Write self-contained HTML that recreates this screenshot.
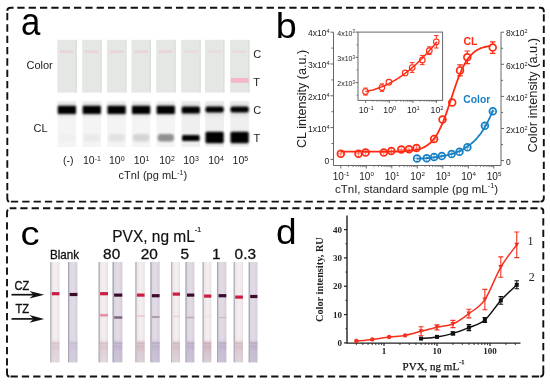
<!DOCTYPE html>
<html><head><meta charset="utf-8"><style>
html,body{margin:0;padding:0;background:#fff;width:550px;height:385px;overflow:hidden}
svg{display:block;filter:blur(0.35px)}
</style></head><body>
<svg width="550" height="385" viewBox="0 0 550 385">
<path d="M17.30 7.7H24.60M28.63 7.7H35.93M39.97 7.7H47.27M51.30 7.7H58.60M62.63 7.7H69.93M73.97 7.7H81.27M85.30 7.7H92.60M96.63 7.7H103.93M107.97 7.7H115.27M119.30 7.7H126.60M130.63 7.7H137.93M141.97 7.7H149.27M153.30 7.7H160.60M164.63 7.7H171.93M175.97 7.7H183.27M187.30 7.7H194.60M198.63 7.7H205.93M209.97 7.7H217.27M221.30 7.7H228.60M232.63 7.7H239.93M243.97 7.7H251.27M255.30 7.7H262.60M266.63 7.7H273.93M277.97 7.7H285.27M289.30 7.7H296.60M300.63 7.7H307.93M311.97 7.7H319.27M323.30 7.7H330.60M334.63 7.7H341.93M345.97 7.7H353.27M357.30 7.7H364.60M368.63 7.7H375.93M379.97 7.7H387.27M391.30 7.7H398.60M402.63 7.7H409.93M413.97 7.7H421.27M425.30 7.7H432.60M436.63 7.7H443.93M447.97 7.7H455.27M459.30 7.7H466.60M470.63 7.7H477.93M481.97 7.7H489.27M493.30 7.7H500.60M504.63 7.7H511.93M515.97 7.7H523.27M527.30 7.7H534.60M543.8 14.30V21.60M543.8 25.63V32.93M543.8 36.97V44.27M543.8 48.30V55.60M543.8 59.63V66.93M543.8 70.97V78.27M543.8 82.30V89.60M543.8 93.63V100.93M543.8 104.97V112.27M543.8 116.30V123.60M543.8 127.63V134.93M543.8 138.97V146.27M543.8 150.30V157.60M543.8 161.63V168.93M543.8 172.97V180.27M543.8 184.30V191.60M10.90 201.6H18.20M22.23 201.6H29.53M33.57 201.6H40.87M44.90 201.6H52.20M56.23 201.6H63.53M67.57 201.6H74.87M78.90 201.6H86.20M90.23 201.6H97.53M101.57 201.6H108.87M112.90 201.6H120.20M124.23 201.6H131.53M135.57 201.6H142.87M146.90 201.6H154.20M158.23 201.6H165.53M169.57 201.6H176.87M180.90 201.6H188.20M192.23 201.6H199.53M203.57 201.6H210.87M214.90 201.6H222.20M226.23 201.6H233.53M237.57 201.6H244.87M248.90 201.6H256.20M260.23 201.6H267.53M271.57 201.6H278.87M282.90 201.6H290.20M294.23 201.6H301.53M305.57 201.6H312.87M316.90 201.6H324.20M328.23 201.6H335.53M339.57 201.6H346.87M350.90 201.6H358.20M362.23 201.6H369.53M373.57 201.6H380.87M384.90 201.6H392.20M396.23 201.6H403.53M407.57 201.6H414.87M418.90 201.6H426.20M430.23 201.6H437.53M441.57 201.6H448.87M452.90 201.6H460.20M464.23 201.6H471.53M475.57 201.6H482.87M486.90 201.6H494.20M498.23 201.6H505.53M509.57 201.6H516.87M520.90 201.6H528.20M532.23 201.6H539.53M7.3 13.00V20.30M7.3 24.33V31.63M7.3 35.67V42.97M7.3 47.00V54.30M7.3 58.33V65.63M7.3 69.67V76.97M7.3 81.00V88.30M7.3 92.33V99.63M7.3 103.67V110.97M7.3 115.00V122.30M7.3 126.33V133.63M7.3 137.67V144.97M7.3 149.00V156.30M7.3 160.33V167.63M7.3 171.67V178.97M7.3 183.00V190.30M7.3 10.8Q7.3 7.7 10.6 7.7H13.6M538.9 7.7H540.5Q543.8 7.7 543.8 11V12.2M543.8 195.4V198.3Q543.8 201.6 540.5 201.6M7.3 193.6V198.3Q7.3 201.6 9.3 201.6M9.7 208.2H16.4M20.28 208.2H27.58M31.62 208.2H38.92M42.95 208.2H50.25M54.28 208.2H61.58M65.62 208.2H72.92M76.95 208.2H84.25M88.28 208.2H95.58M99.62 208.2H106.92M110.95 208.2H118.25M122.28 208.2H129.58M133.62 208.2H140.92M144.95 208.2H152.25M156.28 208.2H163.58M167.62 208.2H174.92M178.95 208.2H186.25M190.28 208.2H197.58M201.62 208.2H208.92M212.95 208.2H220.25M224.28 208.2H231.58M235.62 208.2H242.92M246.95 208.2H254.25M258.28 208.2H265.58M269.62 208.2H276.92M280.95 208.2H288.25M292.28 208.2H299.58M303.62 208.2H310.92M314.95 208.2H322.25M326.28 208.2H333.58M337.62 208.2H344.92M348.95 208.2H356.25M360.28 208.2H367.58M371.62 208.2H378.92M382.95 208.2H390.25M394.28 208.2H401.58M405.62 208.2H412.92M416.95 208.2H424.25M428.28 208.2H435.58M439.62 208.2H446.92M450.95 208.2H458.25M462.28 208.2H469.58M473.62 208.2H480.92M484.95 208.2H492.25M496.28 208.2H503.58M507.62 208.2H514.92M518.95 208.2H526.25M530.28 208.2H537.58M543.3 218.30V225.60M543.3 229.63V236.93M543.3 240.97V248.27M543.3 252.30V259.60M543.3 263.63V270.93M543.3 274.97V282.27M543.3 286.30V293.60M543.3 297.63V304.93M543.3 308.97V316.27M543.3 320.30V327.60M543.3 331.63V338.93M543.3 342.97V350.27M543.3 354.30V361.60M543.3 365.63V372.93M10.50 376.5H17.80M21.83 376.5H29.13M33.17 376.5H40.47M44.50 376.5H51.80M55.83 376.5H63.13M67.17 376.5H74.47M78.50 376.5H85.80M89.83 376.5H97.13M101.17 376.5H108.47M112.50 376.5H119.80M123.83 376.5H131.13M135.17 376.5H142.47M146.50 376.5H153.80M157.83 376.5H165.13M169.17 376.5H176.47M180.50 376.5H187.80M191.83 376.5H199.13M203.17 376.5H210.47M214.50 376.5H221.80M225.83 376.5H233.13M237.17 376.5H244.47M248.50 376.5H255.80M259.83 376.5H267.13M271.17 376.5H278.47M282.50 376.5H289.80M293.83 376.5H301.13M305.17 376.5H312.47M316.50 376.5H323.80M327.83 376.5H335.13M339.17 376.5H346.47M350.50 376.5H357.80M361.83 376.5H369.13M373.17 376.5H380.47M384.50 376.5H391.80M395.83 376.5H403.13M407.17 376.5H414.47M418.50 376.5H425.80M429.83 376.5H437.13M441.17 376.5H448.47M452.50 376.5H459.80M463.83 376.5H471.13M475.17 376.5H482.47M486.50 376.5H493.80M497.83 376.5H505.13M509.17 376.5H516.47M520.50 376.5H527.80M531.83 376.5H539.13M7.0 222.23V229.53M7.0 233.57V240.87M7.0 244.90V252.20M7.0 256.23V263.53M7.0 267.57V274.87M7.0 278.90V286.20M7.0 290.23V297.53M7.0 301.57V308.87M7.0 312.90V320.20M7.0 324.23V331.53M7.0 335.57V342.87M7.0 346.90V354.20M7.0 358.23V365.53M7.0 217.3V212.2Q7.0 210.6 8.2 209.9M540.6 208.2Q543.3 208.2 543.3 211V214.1M543.3 365.6V373.3Q543.3 376.5 540.2 376.5M7.0 368.6V373.3Q7.0 376.5 9.4 376.5" fill="none" stroke="#111" stroke-width="1.9"/>
<text transform="translate(21.1 35) scale(0.94 1.05)" font-size="37" fill="#000" style="font-family:'Liberation Sans',sans-serif">a</text>
<text x="26.5" y="69.2" font-size="11" fill="#222" style="font-family:'Liberation Sans',sans-serif">Color</text>
<text x="33.6" y="131.8" font-size="11" fill="#222" style="font-family:'Liberation Sans',sans-serif">CL</text>
<defs><filter id="bl" x="-20%" y="-50%" width="140%" height="200%"><feGaussianBlur stdDeviation="0.95"/></filter><filter id="bl2" x="-20%" y="-50%" width="140%" height="200%"><feGaussianBlur stdDeviation="1.6"/></filter><filter id="bl3" x="-20%" y="-20%" width="140%" height="140%"><feGaussianBlur stdDeviation="0.6"/></filter></defs>
<rect x="57.3" y="39.8" width="19.4" height="52.8" fill="#e4e7e4"/>
<rect x="75.69999999999999" y="39.8" width="1" height="52.8" fill="#d8dcd8"/>
<rect x="59.8" y="50.3" width="14" height="2.6" fill="#ead4d7" filter="url(#bl3)"/>
<rect x="82.2" y="39.8" width="19.4" height="52.8" fill="#e4e7e4"/>
<rect x="100.6" y="39.8" width="1" height="52.8" fill="#d8dcd8"/>
<rect x="84.7" y="50.3" width="14" height="2.6" fill="#ead4d7" filter="url(#bl3)"/>
<rect x="107" y="39.8" width="19.4" height="52.8" fill="#e4e7e4"/>
<rect x="125.4" y="39.8" width="1" height="52.8" fill="#d8dcd8"/>
<rect x="109.5" y="50.3" width="14" height="2.6" fill="#ead4d7" filter="url(#bl3)"/>
<rect x="131.5" y="39.8" width="19.4" height="52.8" fill="#e4e7e4"/>
<rect x="149.9" y="39.8" width="1" height="52.8" fill="#d8dcd8"/>
<rect x="134.0" y="50.3" width="14" height="2.6" fill="#ead4d7" filter="url(#bl3)"/>
<rect x="156.2" y="39.8" width="19.4" height="52.8" fill="#e4e7e4"/>
<rect x="174.6" y="39.8" width="1" height="52.8" fill="#d8dcd8"/>
<rect x="158.7" y="50.3" width="14" height="2.6" fill="#ead4d7" filter="url(#bl3)"/>
<rect x="181.2" y="39.8" width="19.4" height="52.8" fill="#e4e7e4"/>
<rect x="199.6" y="39.8" width="1" height="52.8" fill="#d8dcd8"/>
<rect x="183.7" y="50.3" width="14" height="2.6" fill="#e8dcdd" filter="url(#bl3)"/>
<rect x="205" y="39.8" width="19.4" height="52.8" fill="#e4e7e4"/>
<rect x="223.4" y="39.8" width="1" height="52.8" fill="#d8dcd8"/>
<rect x="207.5" y="50.3" width="14" height="2.6" fill="#e8dcdd" filter="url(#bl3)"/>
<rect x="230" y="39.8" width="19.4" height="52.8" fill="#e4e7e4"/>
<rect x="248.4" y="39.8" width="1" height="52.8" fill="#d8dcd8"/>
<rect x="232.5" y="50.3" width="14" height="2.6" fill="#e8dcdd" filter="url(#bl3)"/>
<rect x="231" y="78" width="17.6" height="4.8" fill="#f4b6c8" filter="url(#bl3)"/>
<rect x="57.599999999999994" y="101" width="18.6" height="46" fill="#f4f4f4" filter="url(#bl3)"/>
<rect x="57.8" y="102.5" width="18.2" height="14" fill="#e2e2e2" filter="url(#bl2)"/>
<rect x="57.8" y="105.8" width="18.2" height="8.3" rx="1" fill="#000" filter="url(#bl)"/>
<rect x="58.8" y="134" width="16.2" height="7.4" rx="3" fill="#f0f0f0" filter="url(#bl)"/>
<rect x="82.5" y="101" width="18.6" height="46" fill="#f4f4f4" filter="url(#bl3)"/>
<rect x="82.7" y="102.5" width="18.2" height="14" fill="#e2e2e2" filter="url(#bl2)"/>
<rect x="82.7" y="105.8" width="18.2" height="8.3" rx="1" fill="#000" filter="url(#bl)"/>
<rect x="83.7" y="134" width="16.2" height="7.4" rx="3" fill="#eaeaea" filter="url(#bl)"/>
<rect x="107.3" y="101" width="18.6" height="46" fill="#f4f4f4" filter="url(#bl3)"/>
<rect x="107.5" y="102.5" width="18.2" height="14" fill="#e2e2e2" filter="url(#bl2)"/>
<rect x="107.5" y="105.8" width="18.2" height="8.3" rx="1" fill="#000" filter="url(#bl)"/>
<rect x="108.5" y="134" width="16.2" height="7.4" rx="3" fill="#e2e2e2" filter="url(#bl)"/>
<rect x="131.8" y="101" width="18.6" height="46" fill="#f4f4f4" filter="url(#bl3)"/>
<rect x="132.0" y="102.5" width="18.2" height="14" fill="#e2e2e2" filter="url(#bl2)"/>
<rect x="132.0" y="105.8" width="18.2" height="8.3" rx="1" fill="#000" filter="url(#bl)"/>
<rect x="133.0" y="134" width="16.2" height="7.4" rx="3" fill="#d4d4d4" filter="url(#bl)"/>
<rect x="156.5" y="101" width="18.6" height="46" fill="#f4f4f4" filter="url(#bl3)"/>
<rect x="156.7" y="102.5" width="18.2" height="14" fill="#e2e2e2" filter="url(#bl2)"/>
<rect x="156.7" y="105.8" width="18.2" height="8.3" rx="1" fill="#000" filter="url(#bl)"/>
<rect x="157.7" y="134" width="16.2" height="7.4" rx="3" fill="#909090" filter="url(#bl)"/>
<rect x="181.5" y="101" width="18.6" height="46" fill="#efefef" filter="url(#bl3)"/>
<rect x="181.7" y="102.5" width="18.2" height="14" fill="#e2e2e2" filter="url(#bl2)"/>
<rect x="181.7" y="106.6" width="18.2" height="6.9" rx="1.5" fill="#000" filter="url(#bl)"/>
<rect x="182.0" y="135" width="17.6" height="6" rx="1.5" fill="#000" filter="url(#bl)"/>
<rect x="205.3" y="101" width="18.6" height="46" fill="#efefef" filter="url(#bl3)"/>
<rect x="205.5" y="102.5" width="18.2" height="14" fill="#e2e2e2" filter="url(#bl2)"/>
<rect x="205.5" y="106.4" width="18.2" height="6.2" rx="2" fill="#000" filter="url(#bl)"/>
<rect x="205.5" y="131.8" width="18.2" height="11.4" rx="1.5" fill="#000" filter="url(#bl)"/>
<rect x="230.3" y="101" width="18.6" height="46" fill="#efefef" filter="url(#bl3)"/>
<rect x="230.5" y="102.5" width="18.2" height="14" fill="#e2e2e2" filter="url(#bl2)"/>
<rect x="230.5" y="106.4" width="18.2" height="6.2" rx="2" fill="#000" filter="url(#bl)"/>
<rect x="230.5" y="131.8" width="18.2" height="11.4" rx="1.5" fill="#000" filter="url(#bl)"/>
<text x="253.3" y="57.6" font-size="11" fill="#222" style="font-family:'Liberation Sans',sans-serif">C</text>
<text x="253.3" y="86" font-size="11" fill="#222" style="font-family:'Liberation Sans',sans-serif">T</text>
<text x="253.3" y="113.8" font-size="11" fill="#222" style="font-family:'Liberation Sans',sans-serif">C</text>
<text x="253.5" y="142.4" font-size="11" fill="#222" style="font-family:'Liberation Sans',sans-serif">T</text>
<text x="68.2" y="164.4" font-size="10.5" text-anchor="middle" fill="#222" style="font-family:'Liberation Sans',sans-serif">(-)</text>
<text x="91.9" y="164.4" font-size="10.5" text-anchor="middle" fill="#222" style="font-family:'Liberation Sans',sans-serif">10<tspan dy="-3.6" font-size="7">-1</tspan></text>
<text x="116.8" y="164.4" font-size="10.5" text-anchor="middle" fill="#222" style="font-family:'Liberation Sans',sans-serif">10<tspan dy="-3.6" font-size="7">0</tspan></text>
<text x="141.5" y="164.4" font-size="10.5" text-anchor="middle" fill="#222" style="font-family:'Liberation Sans',sans-serif">10<tspan dy="-3.6" font-size="7">1</tspan></text>
<text x="167" y="164.4" font-size="10.5" text-anchor="middle" fill="#222" style="font-family:'Liberation Sans',sans-serif">10<tspan dy="-3.6" font-size="7">2</tspan></text>
<text x="191" y="164.4" font-size="10.5" text-anchor="middle" fill="#222" style="font-family:'Liberation Sans',sans-serif">10<tspan dy="-3.6" font-size="7">3</tspan></text>
<text x="216" y="164.4" font-size="10.5" text-anchor="middle" fill="#222" style="font-family:'Liberation Sans',sans-serif">10<tspan dy="-3.6" font-size="7">4</tspan></text>
<text x="240.4" y="164.4" font-size="10.5" text-anchor="middle" fill="#222" style="font-family:'Liberation Sans',sans-serif">10<tspan dy="-3.6" font-size="7">5</tspan></text>
<text x="118.5" y="178.7" font-size="11" fill="#222" style="font-family:'Liberation Sans',sans-serif">cTnI (pg mL<tspan dy="-4" font-size="7">-1</tspan><tspan dy="4">)</tspan></text>
<text transform="translate(275.7 37.6) scale(1.08 1)" font-size="35" fill="#000" style="font-family:'Liberation Sans',sans-serif">b</text>
<path d="M333.5 32.2 V165.5 H501 V32.2" fill="none" stroke="#666" stroke-width="1"/>
<line x1="330.5" y1="159.4" x2="333.5" y2="159.4" stroke="#666" stroke-width="1"/>
<line x1="331.5" y1="143.5" x2="333.5" y2="143.5" stroke="#666" stroke-width="1"/>
<text x="329.2" y="163.6" font-size="8.5" text-anchor="end" fill="#222" style="font-family:'Liberation Sans',sans-serif">0</text>
<line x1="330.5" y1="127.60000000000001" x2="333.5" y2="127.60000000000001" stroke="#666" stroke-width="1"/>
<line x1="331.5" y1="111.7" x2="333.5" y2="111.7" stroke="#666" stroke-width="1"/>
<text x="329.5" y="131.8" font-size="8.5" text-anchor="end" fill="#222" style="font-family:'Liberation Sans',sans-serif">1x10<tspan dy="-3" font-size="5.5">4</tspan></text>
<line x1="330.5" y1="95.80000000000001" x2="333.5" y2="95.80000000000001" stroke="#666" stroke-width="1"/>
<line x1="331.5" y1="79.9" x2="333.5" y2="79.9" stroke="#666" stroke-width="1"/>
<text x="329.5" y="100.00000000000001" font-size="8.5" text-anchor="end" fill="#222" style="font-family:'Liberation Sans',sans-serif">2x10<tspan dy="-3" font-size="5.5">4</tspan></text>
<line x1="330.5" y1="64.0" x2="333.5" y2="64.0" stroke="#666" stroke-width="1"/>
<line x1="331.5" y1="48.1" x2="333.5" y2="48.1" stroke="#666" stroke-width="1"/>
<text x="329.5" y="68.2" font-size="8.5" text-anchor="end" fill="#222" style="font-family:'Liberation Sans',sans-serif">3x10<tspan dy="-3" font-size="5.5">4</tspan></text>
<line x1="330.5" y1="32.2" x2="333.5" y2="32.2" stroke="#666" stroke-width="1"/>
<text x="329.5" y="36.400000000000006" font-size="8.5" text-anchor="end" fill="#222" style="font-family:'Liberation Sans',sans-serif">4x10<tspan dy="-3" font-size="5.5">4</tspan></text>
<line x1="501" y1="160.6" x2="504" y2="160.6" stroke="#666" stroke-width="1"/>
<line x1="501" y1="144.54999999999998" x2="503" y2="144.54999999999998" stroke="#666" stroke-width="1"/>
<text x="506" y="164.79999999999998" font-size="8.5" fill="#222" style="font-family:'Liberation Sans',sans-serif">0</text>
<line x1="501" y1="128.5" x2="504" y2="128.5" stroke="#666" stroke-width="1"/>
<line x1="501" y1="112.45" x2="503" y2="112.45" stroke="#666" stroke-width="1"/>
<text x="506" y="132.7" font-size="8.5" fill="#222" style="font-family:'Liberation Sans',sans-serif">2x10<tspan dy="-3" font-size="5.5">2</tspan></text>
<line x1="501" y1="96.39999999999999" x2="504" y2="96.39999999999999" stroke="#666" stroke-width="1"/>
<line x1="501" y1="80.35" x2="503" y2="80.35" stroke="#666" stroke-width="1"/>
<text x="506" y="100.6" font-size="8.5" fill="#222" style="font-family:'Liberation Sans',sans-serif">4x10<tspan dy="-3" font-size="5.5">2</tspan></text>
<line x1="501" y1="64.29999999999998" x2="504" y2="64.29999999999998" stroke="#666" stroke-width="1"/>
<line x1="501" y1="48.249999999999986" x2="503" y2="48.249999999999986" stroke="#666" stroke-width="1"/>
<text x="506" y="68.49999999999999" font-size="8.5" fill="#222" style="font-family:'Liberation Sans',sans-serif">6x10<tspan dy="-3" font-size="5.5">2</tspan></text>
<line x1="501" y1="32.19999999999999" x2="504" y2="32.19999999999999" stroke="#666" stroke-width="1"/>
<text x="506" y="36.39999999999999" font-size="8.5" fill="#222" style="font-family:'Liberation Sans',sans-serif">8x10<tspan dy="-3" font-size="5.5">2</tspan></text>
<line x1="340.8" y1="165.5" x2="340.8" y2="168.5" stroke="#666" stroke-width="1"/>
<line x1="348.48" y1="165.5" x2="348.48" y2="167.1" stroke="#666" stroke-width="0.8"/>
<line x1="352.97" y1="165.5" x2="352.97" y2="167.1" stroke="#666" stroke-width="0.8"/>
<line x1="356.15" y1="165.5" x2="356.15" y2="167.1" stroke="#666" stroke-width="0.8"/>
<line x1="358.62" y1="165.5" x2="358.62" y2="167.1" stroke="#666" stroke-width="0.8"/>
<line x1="360.64" y1="165.5" x2="360.64" y2="167.1" stroke="#666" stroke-width="0.8"/>
<line x1="362.35" y1="165.5" x2="362.35" y2="167.1" stroke="#666" stroke-width="0.8"/>
<line x1="363.83" y1="165.5" x2="363.83" y2="167.1" stroke="#666" stroke-width="0.8"/>
<line x1="365.13" y1="165.5" x2="365.13" y2="167.1" stroke="#666" stroke-width="0.8"/>
<text x="341.1" y="179.7" font-size="10" text-anchor="middle" fill="#222" style="font-family:'Liberation Sans',sans-serif">10<tspan dy="-3.8" font-size="6.2">-1</tspan></text>
<line x1="366.3" y1="165.5" x2="366.3" y2="168.5" stroke="#666" stroke-width="1"/>
<line x1="373.98" y1="165.5" x2="373.98" y2="167.1" stroke="#666" stroke-width="0.8"/>
<line x1="378.47" y1="165.5" x2="378.47" y2="167.1" stroke="#666" stroke-width="0.8"/>
<line x1="381.65" y1="165.5" x2="381.65" y2="167.1" stroke="#666" stroke-width="0.8"/>
<line x1="384.12" y1="165.5" x2="384.12" y2="167.1" stroke="#666" stroke-width="0.8"/>
<line x1="386.14" y1="165.5" x2="386.14" y2="167.1" stroke="#666" stroke-width="0.8"/>
<line x1="387.85" y1="165.5" x2="387.85" y2="167.1" stroke="#666" stroke-width="0.8"/>
<line x1="389.33" y1="165.5" x2="389.33" y2="167.1" stroke="#666" stroke-width="0.8"/>
<line x1="390.63" y1="165.5" x2="390.63" y2="167.1" stroke="#666" stroke-width="0.8"/>
<text x="366.6" y="179.7" font-size="10" text-anchor="middle" fill="#222" style="font-family:'Liberation Sans',sans-serif">10<tspan dy="-3.8" font-size="6.2">0</tspan></text>
<line x1="391.8" y1="165.5" x2="391.8" y2="168.5" stroke="#666" stroke-width="1"/>
<line x1="399.48" y1="165.5" x2="399.48" y2="167.1" stroke="#666" stroke-width="0.8"/>
<line x1="403.97" y1="165.5" x2="403.97" y2="167.1" stroke="#666" stroke-width="0.8"/>
<line x1="407.15" y1="165.5" x2="407.15" y2="167.1" stroke="#666" stroke-width="0.8"/>
<line x1="409.62" y1="165.5" x2="409.62" y2="167.1" stroke="#666" stroke-width="0.8"/>
<line x1="411.64" y1="165.5" x2="411.64" y2="167.1" stroke="#666" stroke-width="0.8"/>
<line x1="413.35" y1="165.5" x2="413.35" y2="167.1" stroke="#666" stroke-width="0.8"/>
<line x1="414.83" y1="165.5" x2="414.83" y2="167.1" stroke="#666" stroke-width="0.8"/>
<line x1="416.13" y1="165.5" x2="416.13" y2="167.1" stroke="#666" stroke-width="0.8"/>
<text x="392.1" y="179.7" font-size="10" text-anchor="middle" fill="#222" style="font-family:'Liberation Sans',sans-serif">10<tspan dy="-3.8" font-size="6.2">1</tspan></text>
<line x1="417.3" y1="165.5" x2="417.3" y2="168.5" stroke="#666" stroke-width="1"/>
<line x1="424.98" y1="165.5" x2="424.98" y2="167.1" stroke="#666" stroke-width="0.8"/>
<line x1="429.47" y1="165.5" x2="429.47" y2="167.1" stroke="#666" stroke-width="0.8"/>
<line x1="432.65" y1="165.5" x2="432.65" y2="167.1" stroke="#666" stroke-width="0.8"/>
<line x1="435.12" y1="165.5" x2="435.12" y2="167.1" stroke="#666" stroke-width="0.8"/>
<line x1="437.14" y1="165.5" x2="437.14" y2="167.1" stroke="#666" stroke-width="0.8"/>
<line x1="438.85" y1="165.5" x2="438.85" y2="167.1" stroke="#666" stroke-width="0.8"/>
<line x1="440.33" y1="165.5" x2="440.33" y2="167.1" stroke="#666" stroke-width="0.8"/>
<line x1="441.63" y1="165.5" x2="441.63" y2="167.1" stroke="#666" stroke-width="0.8"/>
<text x="417.6" y="179.7" font-size="10" text-anchor="middle" fill="#222" style="font-family:'Liberation Sans',sans-serif">10<tspan dy="-3.8" font-size="6.2">2</tspan></text>
<line x1="442.8" y1="165.5" x2="442.8" y2="168.5" stroke="#666" stroke-width="1"/>
<line x1="450.48" y1="165.5" x2="450.48" y2="167.1" stroke="#666" stroke-width="0.8"/>
<line x1="454.97" y1="165.5" x2="454.97" y2="167.1" stroke="#666" stroke-width="0.8"/>
<line x1="458.15" y1="165.5" x2="458.15" y2="167.1" stroke="#666" stroke-width="0.8"/>
<line x1="460.62" y1="165.5" x2="460.62" y2="167.1" stroke="#666" stroke-width="0.8"/>
<line x1="462.64" y1="165.5" x2="462.64" y2="167.1" stroke="#666" stroke-width="0.8"/>
<line x1="464.35" y1="165.5" x2="464.35" y2="167.1" stroke="#666" stroke-width="0.8"/>
<line x1="465.83" y1="165.5" x2="465.83" y2="167.1" stroke="#666" stroke-width="0.8"/>
<line x1="467.13" y1="165.5" x2="467.13" y2="167.1" stroke="#666" stroke-width="0.8"/>
<text x="443.1" y="179.7" font-size="10" text-anchor="middle" fill="#222" style="font-family:'Liberation Sans',sans-serif">10<tspan dy="-3.8" font-size="6.2">3</tspan></text>
<line x1="468.3" y1="165.5" x2="468.3" y2="168.5" stroke="#666" stroke-width="1"/>
<line x1="475.98" y1="165.5" x2="475.98" y2="167.1" stroke="#666" stroke-width="0.8"/>
<line x1="480.47" y1="165.5" x2="480.47" y2="167.1" stroke="#666" stroke-width="0.8"/>
<line x1="483.65" y1="165.5" x2="483.65" y2="167.1" stroke="#666" stroke-width="0.8"/>
<line x1="486.12" y1="165.5" x2="486.12" y2="167.1" stroke="#666" stroke-width="0.8"/>
<line x1="488.14" y1="165.5" x2="488.14" y2="167.1" stroke="#666" stroke-width="0.8"/>
<line x1="489.85" y1="165.5" x2="489.85" y2="167.1" stroke="#666" stroke-width="0.8"/>
<line x1="491.33" y1="165.5" x2="491.33" y2="167.1" stroke="#666" stroke-width="0.8"/>
<line x1="492.63" y1="165.5" x2="492.63" y2="167.1" stroke="#666" stroke-width="0.8"/>
<text x="468.6" y="179.7" font-size="10" text-anchor="middle" fill="#222" style="font-family:'Liberation Sans',sans-serif">10<tspan dy="-3.8" font-size="6.2">4</tspan></text>
<line x1="493.8" y1="165.5" x2="493.8" y2="168.5" stroke="#666" stroke-width="1"/>
<text x="494.1" y="179.7" font-size="10" text-anchor="middle" fill="#222" style="font-family:'Liberation Sans',sans-serif">10<tspan dy="-3.8" font-size="6.2">5</tspan></text>
<text x="335" y="192.6" font-size="11.5" fill="#222" style="font-family:'Liberation Sans',sans-serif">cTnI, standard sample (pg mL<tspan dy="-4.3" font-size="7.3">-1</tspan><tspan dy="4.3">)</tspan></text>
<text transform="translate(305.5 148) rotate(-90)" font-size="12.6" fill="#222" style="font-family:'Liberation Sans',sans-serif">CL intensity (a.u.)</text>
<text transform="translate(536.8 152.5) rotate(-90)" font-size="12.8" fill="#222" style="font-family:'Liberation Sans',sans-serif">Color intensity (a.u.)</text>
<polyline fill="none" stroke="#ff2a12" stroke-width="1.8" points="340.8,151.7 342.7,151.7 344.6,151.7 346.5,151.7 348.4,151.7 350.3,151.7 352.2,151.7 354.1,151.7 356.0,151.7 357.9,151.7 359.7,151.7 361.6,151.7 363.5,151.7 365.4,151.7 367.3,151.7 369.2,151.7 371.1,151.7 373.0,151.7 374.9,151.7 376.8,151.7 378.7,151.7 380.6,151.6 382.5,151.6 384.4,151.6 386.3,151.6 388.2,151.6 390.1,151.6 392.0,151.6 393.9,151.5 395.8,151.5 397.6,151.5 399.5,151.4 401.4,151.3 403.3,151.2 405.2,151.1 407.1,151.0 409.0,150.8 410.9,150.7 412.8,150.4 414.7,150.1 416.6,149.7 418.5,149.3 420.4,148.7 422.3,148.0 424.2,147.1 426.1,146.1 428.0,144.8 429.9,143.3 431.8,141.5 433.7,139.3 435.5,136.7 437.4,133.7 439.3,130.2 441.2,126.2 443.1,121.8 445.0,116.9 446.9,111.6 448.8,106.0 450.7,100.3 452.6,94.5 454.5,88.8 456.4,83.3 458.3,78.1 460.2,73.3 462.1,69.0 464.0,65.2 465.9,61.8 467.8,58.9 469.7,56.5 471.6,54.4 473.4,52.6 475.3,51.2 477.2,50.0 479.1,49.0 481.0,48.2 482.9,47.5 484.8,47.0 486.7,46.6 488.6,46.2 490.5,45.9"/>
<polyline fill="none" stroke="#1a80c4" stroke-width="1.8" points="417.0,158.7 418.6,158.7 420.1,158.6 421.7,158.5 423.2,158.4 424.8,158.3 426.3,158.2 427.9,158.0 429.4,157.9 431.0,157.7 432.5,157.6 434.1,157.4 435.6,157.2 437.2,157.0 438.7,156.7 440.3,156.5 441.8,156.2 443.4,155.9 444.9,155.6 446.5,155.3 448.0,154.9 449.6,154.5 451.1,154.1 452.7,153.6 454.2,153.1 455.8,152.5 457.3,151.9 458.9,151.3 460.4,150.6 462.0,149.8 463.5,149.0 465.1,148.1 466.6,147.1 468.2,146.0 469.7,144.9 471.3,143.6 472.8,142.3 474.4,140.8 475.9,139.3 477.5,137.5 479.0,135.7 480.6,133.7 482.1,131.5 483.7,129.1 485.2,126.5 486.8,123.8 488.3,120.7 489.9,117.5 491.4,113.9 493.0,110.1"/>
<circle cx="340.8" cy="153.8" r="3.4" fill="none" stroke="#ff2a12" stroke-width="1.7"/>
<path d="M337.8 153.8 H343.8 M340.8 150.8 V156.8" stroke="#ff2a12" stroke-width="0.7" opacity="0.8"/>
<circle cx="358.5" cy="153.8" r="3.4" fill="none" stroke="#ff2a12" stroke-width="1.7"/>
<path d="M355.5 153.8 H361.5 M358.5 150.8 V156.8" stroke="#ff2a12" stroke-width="0.7" opacity="0.8"/>
<circle cx="365.6" cy="152.6" r="3.4" fill="none" stroke="#ff2a12" stroke-width="1.7"/>
<path d="M362.6 152.6 H368.6 M365.6 149.6 V155.6" stroke="#ff2a12" stroke-width="0.7" opacity="0.8"/>
<circle cx="383.8" cy="152.6" r="3.4" fill="none" stroke="#ff2a12" stroke-width="1.7"/>
<path d="M380.8 152.6 H386.8 M383.8 149.6 V155.6" stroke="#ff2a12" stroke-width="0.7" opacity="0.8"/>
<circle cx="391.3" cy="151" r="3.4" fill="none" stroke="#ff2a12" stroke-width="1.7"/>
<path d="M388.3 151 H394.3 M391.3 148 V154" stroke="#ff2a12" stroke-width="0.7" opacity="0.8"/>
<circle cx="401.3" cy="149.6" r="3.4" fill="none" stroke="#ff2a12" stroke-width="1.7"/>
<path d="M398.3 149.6 H404.3 M401.3 146.6 V152.6" stroke="#ff2a12" stroke-width="0.7" opacity="0.8"/>
<circle cx="409" cy="149.3" r="3.4" fill="none" stroke="#ff2a12" stroke-width="1.7"/>
<path d="M406 149.3 H412 M409 146.3 V152.3" stroke="#ff2a12" stroke-width="0.7" opacity="0.8"/>
<circle cx="416.5" cy="148" r="3.4" fill="none" stroke="#ff2a12" stroke-width="1.7"/>
<path d="M413.5 148 H419.5 M416.5 145 V151" stroke="#ff2a12" stroke-width="0.7" opacity="0.8"/>
<circle cx="434.1" cy="138.9" r="3.4" fill="none" stroke="#ff2a12" stroke-width="1.7"/>
<path d="M431.1 138.9 H437.1 M434.1 135.9 V141.9" stroke="#ff2a12" stroke-width="0.7" opacity="0.8"/>
<circle cx="442.5" cy="119.5" r="3.4" fill="none" stroke="#ff2a12" stroke-width="1.7"/>
<circle cx="452.2" cy="102.5" r="3.4" fill="none" stroke="#ff2a12" stroke-width="1.7"/>
<path d="M460 64.9 V67.0 M460 73.80000000000001 V75.9 M457.2 64.9 H462.8 M457.2 75.9 H462.8" stroke="#ff2a12" stroke-width="1.2" fill="none"/>
<circle cx="460" cy="70.4" r="3.4" fill="none" stroke="#ff2a12" stroke-width="1.7"/>
<path d="M467.3 51.0 V53.9 M467.3 60.699999999999996 V63.599999999999994 M464.5 51.0 H470.1 M464.5 63.599999999999994 H470.1" stroke="#ff2a12" stroke-width="1.2" fill="none"/>
<circle cx="467.3" cy="57.3" r="3.4" fill="none" stroke="#ff2a12" stroke-width="1.7"/>
<path d="M492.7 41.800000000000004 V44.2 M492.7 51.0 V53.4 M489.9 41.800000000000004 H495.5 M489.9 53.4 H495.5" stroke="#ff2a12" stroke-width="1.2" fill="none"/>
<circle cx="492.7" cy="47.6" r="3.4" fill="none" stroke="#ff2a12" stroke-width="1.7"/>
<circle cx="417" cy="158.5" r="3.4" fill="none" stroke="#1a80c4" stroke-width="1.7"/>
<path d="M414 158.5 H420 M417 155.5 V161.5" stroke="#1a80c4" stroke-width="0.7" opacity="0.8"/>
<circle cx="426.7" cy="158.2" r="3.4" fill="none" stroke="#1a80c4" stroke-width="1.7"/>
<path d="M423.7 158.2 H429.7 M426.7 155.2 V161.2" stroke="#1a80c4" stroke-width="0.7" opacity="0.8"/>
<circle cx="434.1" cy="157" r="3.4" fill="none" stroke="#1a80c4" stroke-width="1.7"/>
<path d="M431.1 157 H437.1 M434.1 154 V160" stroke="#1a80c4" stroke-width="0.7" opacity="0.8"/>
<circle cx="441.8" cy="156.1" r="3.4" fill="none" stroke="#1a80c4" stroke-width="1.7"/>
<path d="M438.8 156.1 H444.8 M441.8 153.1 V159.1" stroke="#1a80c4" stroke-width="0.7" opacity="0.8"/>
<circle cx="451.6" cy="154" r="3.4" fill="none" stroke="#1a80c4" stroke-width="1.7"/>
<path d="M448.6 154 H454.6 M451.6 151 V157" stroke="#1a80c4" stroke-width="0.7" opacity="0.8"/>
<circle cx="459.5" cy="151.7" r="3.4" fill="none" stroke="#1a80c4" stroke-width="1.7"/>
<path d="M456.5 151.7 H462.5 M459.5 148.7 V154.7" stroke="#1a80c4" stroke-width="0.7" opacity="0.8"/>
<circle cx="467.4" cy="147.2" r="3.4" fill="none" stroke="#1a80c4" stroke-width="1.7"/>
<path d="M464.4 147.2 H470.4 M467.4 144.2 V150.2" stroke="#1a80c4" stroke-width="0.7" opacity="0.8"/>
<circle cx="484.9" cy="125.8" r="3.4" fill="none" stroke="#1a80c4" stroke-width="1.7"/>
<path d="M481.9 125.8 H487.9 M484.9 122.8 V128.8" stroke="#1a80c4" stroke-width="0.7" opacity="0.8"/>
<circle cx="492.8" cy="111.2" r="3.4" fill="none" stroke="#1a80c4" stroke-width="1.7"/>
<path d="M489.8 111.2 H495.8 M492.8 108.2 V114.2" stroke="#1a80c4" stroke-width="0.7" opacity="0.8"/>
<text x="463.4" y="44.6" font-size="10.5" font-weight="bold" fill="#ff2a12" style="font-family:'Liberation Sans',sans-serif">CL</text>
<text x="463.3" y="102.8" font-size="10.3" font-weight="bold" fill="#1a80c4" style="font-family:'Liberation Sans',sans-serif">Color</text>
<rect x="358" y="32.1" width="84.60000000000002" height="68.30000000000001" fill="#fff" stroke="#666" stroke-width="1"/>
<line x1="355.5" y1="82.6" x2="358" y2="82.6" stroke="#666" stroke-width="1"/>
<line x1="356.5" y1="95.19999999999999" x2="358" y2="95.19999999999999" stroke="#666" stroke-width="0.8"/>
<text x="355" y="86.39999999999999" font-size="7" text-anchor="end" fill="#222" style="font-family:'Liberation Sans',sans-serif">2x10<tspan dy="-2.5" font-size="4.5">3</tspan></text>
<line x1="355.5" y1="57.349999999999994" x2="358" y2="57.349999999999994" stroke="#666" stroke-width="1"/>
<line x1="356.5" y1="69.94999999999999" x2="358" y2="69.94999999999999" stroke="#666" stroke-width="0.8"/>
<text x="355" y="61.14999999999999" font-size="7" text-anchor="end" fill="#222" style="font-family:'Liberation Sans',sans-serif">3x10<tspan dy="-2.5" font-size="4.5">3</tspan></text>
<line x1="355.5" y1="32.099999999999994" x2="358" y2="32.099999999999994" stroke="#666" stroke-width="1"/>
<line x1="356.5" y1="44.699999999999996" x2="358" y2="44.699999999999996" stroke="#666" stroke-width="0.8"/>
<text x="355" y="35.89999999999999" font-size="7" text-anchor="end" fill="#222" style="font-family:'Liberation Sans',sans-serif">4x10<tspan dy="-2.5" font-size="4.5">3</tspan></text>
<line x1="365.7" y1="100.4" x2="365.7" y2="102.9" stroke="#666" stroke-width="1"/>
<line x1="372.80" y1="100.4" x2="372.80" y2="101.80000000000001" stroke="#666" stroke-width="0.7"/>
<line x1="376.96" y1="100.4" x2="376.96" y2="101.80000000000001" stroke="#666" stroke-width="0.7"/>
<line x1="379.91" y1="100.4" x2="379.91" y2="101.80000000000001" stroke="#666" stroke-width="0.7"/>
<line x1="382.20" y1="100.4" x2="382.20" y2="101.80000000000001" stroke="#666" stroke-width="0.7"/>
<line x1="384.06" y1="100.4" x2="384.06" y2="101.80000000000001" stroke="#666" stroke-width="0.7"/>
<line x1="385.64" y1="100.4" x2="385.64" y2="101.80000000000001" stroke="#666" stroke-width="0.7"/>
<line x1="387.01" y1="100.4" x2="387.01" y2="101.80000000000001" stroke="#666" stroke-width="0.7"/>
<line x1="388.22" y1="100.4" x2="388.22" y2="101.80000000000001" stroke="#666" stroke-width="0.7"/>
<text x="366.2" y="112.8" font-size="8.7" text-anchor="middle" fill="#222" style="font-family:'Liberation Sans',sans-serif">10<tspan dy="-3.3" font-size="5.8">-1</tspan></text>
<line x1="389.3" y1="100.4" x2="389.3" y2="102.9" stroke="#666" stroke-width="1"/>
<line x1="396.40" y1="100.4" x2="396.40" y2="101.80000000000001" stroke="#666" stroke-width="0.7"/>
<line x1="400.56" y1="100.4" x2="400.56" y2="101.80000000000001" stroke="#666" stroke-width="0.7"/>
<line x1="403.51" y1="100.4" x2="403.51" y2="101.80000000000001" stroke="#666" stroke-width="0.7"/>
<line x1="405.80" y1="100.4" x2="405.80" y2="101.80000000000001" stroke="#666" stroke-width="0.7"/>
<line x1="407.66" y1="100.4" x2="407.66" y2="101.80000000000001" stroke="#666" stroke-width="0.7"/>
<line x1="409.24" y1="100.4" x2="409.24" y2="101.80000000000001" stroke="#666" stroke-width="0.7"/>
<line x1="410.61" y1="100.4" x2="410.61" y2="101.80000000000001" stroke="#666" stroke-width="0.7"/>
<line x1="411.82" y1="100.4" x2="411.82" y2="101.80000000000001" stroke="#666" stroke-width="0.7"/>
<text x="389.8" y="112.8" font-size="8.7" text-anchor="middle" fill="#222" style="font-family:'Liberation Sans',sans-serif">10<tspan dy="-3.3" font-size="5.8">0</tspan></text>
<line x1="412.90000000000003" y1="100.4" x2="412.90000000000003" y2="102.9" stroke="#666" stroke-width="1"/>
<line x1="420.00" y1="100.4" x2="420.00" y2="101.80000000000001" stroke="#666" stroke-width="0.7"/>
<line x1="424.16" y1="100.4" x2="424.16" y2="101.80000000000001" stroke="#666" stroke-width="0.7"/>
<line x1="427.11" y1="100.4" x2="427.11" y2="101.80000000000001" stroke="#666" stroke-width="0.7"/>
<line x1="429.40" y1="100.4" x2="429.40" y2="101.80000000000001" stroke="#666" stroke-width="0.7"/>
<line x1="431.26" y1="100.4" x2="431.26" y2="101.80000000000001" stroke="#666" stroke-width="0.7"/>
<line x1="432.84" y1="100.4" x2="432.84" y2="101.80000000000001" stroke="#666" stroke-width="0.7"/>
<line x1="434.21" y1="100.4" x2="434.21" y2="101.80000000000001" stroke="#666" stroke-width="0.7"/>
<line x1="435.42" y1="100.4" x2="435.42" y2="101.80000000000001" stroke="#666" stroke-width="0.7"/>
<text x="413.40000000000003" y="112.8" font-size="8.7" text-anchor="middle" fill="#222" style="font-family:'Liberation Sans',sans-serif">10<tspan dy="-3.3" font-size="5.8">1</tspan></text>
<line x1="436.5" y1="100.4" x2="436.5" y2="102.9" stroke="#666" stroke-width="1"/>
<text x="437.0" y="112.8" font-size="8.7" text-anchor="middle" fill="#222" style="font-family:'Liberation Sans',sans-serif">10<tspan dy="-3.3" font-size="5.8">2</tspan></text>
<polyline fill="none" stroke="#ff2a12" stroke-width="1.5" points="365.5,91.4 367.0,91.2 368.4,90.9 369.9,90.6 371.3,90.2 372.8,89.9 374.3,89.5 375.7,89.0 377.2,88.5 378.6,88.0 380.1,87.5 381.6,86.9 383.0,86.3 384.5,85.7 385.9,85.0 387.4,84.3 388.8,83.6 390.3,82.8 391.8,82.1 393.2,81.2 394.7,80.4 396.1,79.5 397.6,78.6 399.1,77.6 400.5,76.6 402.0,75.6 403.4,74.6 404.9,73.5 406.4,72.4 407.8,71.2 409.3,70.1 410.7,68.9 412.2,67.6 413.7,66.4 415.1,65.1 416.6,63.7 418.0,62.4 419.5,61.0 420.9,59.5 422.4,58.1 423.9,56.6 425.3,55.1 426.8,53.5 428.2,51.9 429.7,50.3 431.2,48.7 432.6,47.0 434.1,45.3 435.5,43.5 437.0,41.8"/>
<path d="M365.5 88.1 V88.89999999999999 M365.5 94.3 V95.1 M363.3 88.1 H367.7 M363.3 95.1 H367.7" stroke="#ff2a12" stroke-width="1" fill="none"/>
<circle cx="365.5" cy="91.6" r="2.8" fill="none" stroke="#ff2a12" stroke-width="1.1"/>
<path d="M381.9 83.89999999999999 V84.89999999999999 M381.9 90.3 V91.3 M379.7 83.89999999999999 H384.09999999999997 M379.7 91.3 H384.09999999999997" stroke="#ff2a12" stroke-width="1" fill="none"/>
<circle cx="381.9" cy="87.6" r="2.8" fill="none" stroke="#ff2a12" stroke-width="1.1"/>
<circle cx="388.9" cy="82.2" r="2.8" fill="none" stroke="#ff2a12" stroke-width="1.1"/>
<circle cx="405.2" cy="72.9" r="2.8" fill="none" stroke="#ff2a12" stroke-width="1.1"/>
<path d="M412.2 62.6 V64.8 M412.2 70.2 V72.4 M410.0 62.6 H414.4 M410.0 72.4 H414.4" stroke="#ff2a12" stroke-width="1" fill="none"/>
<circle cx="412.2" cy="67.5" r="2.8" fill="none" stroke="#ff2a12" stroke-width="1.1"/>
<path d="M422.3 55.4 V57.3 M422.3 62.7 V64.6 M420.1 55.4 H424.5 M420.1 64.6 H424.5" stroke="#ff2a12" stroke-width="1" fill="none"/>
<circle cx="422.3" cy="60" r="2.8" fill="none" stroke="#ff2a12" stroke-width="1.1"/>
<path d="M429.3 46.800000000000004 V48.0 M429.3 53.400000000000006 V54.6 M427.1 46.800000000000004 H431.5 M427.1 54.6 H431.5" stroke="#ff2a12" stroke-width="1" fill="none"/>
<circle cx="429.3" cy="50.7" r="2.8" fill="none" stroke="#ff2a12" stroke-width="1.1"/>
<path d="M436.3 35.599999999999994 V39.099999999999994 M436.3 44.5 V48.0 M434.1 35.599999999999994 H438.5 M434.1 48.0 H438.5" stroke="#ff2a12" stroke-width="1" fill="none"/>
<circle cx="436.3" cy="41.8" r="2.8" fill="none" stroke="#ff2a12" stroke-width="1.1"/>
<text transform="translate(20.5 244.6) scale(1.16 1)" font-size="33" fill="#000" style="font-family:'Liberation Sans',sans-serif">c</text>
<text transform="translate(112.3 241.6) scale(0.91 1)" font-size="17" fill="#111" stroke="#111" stroke-width="0.2" style="font-family:'Liberation Sans',sans-serif">PVX, ng mL<tspan dy="-9.6" font-size="7.6">-1</tspan></text>
<text transform="translate(49.9 258.8) scale(0.97 1)" font-size="12" fill="#111" stroke="#111" stroke-width="0.3" style="font-family:'Liberation Sans',sans-serif">Blank</text>
<text transform="translate(103.1 259.4) scale(1 1)" font-size="15.4" fill="#111" stroke="#111" stroke-width="0.3" style="font-family:'Liberation Sans',sans-serif">80</text>
<text transform="translate(140.8 259.4) scale(1 1)" font-size="15.4" fill="#111" stroke="#111" stroke-width="0.3" style="font-family:'Liberation Sans',sans-serif">20</text>
<text transform="translate(180.4 259.4) scale(1 1)" font-size="15.4" fill="#111" stroke="#111" stroke-width="0.3" style="font-family:'Liberation Sans',sans-serif">5</text>
<text transform="translate(212.0 259.4) scale(1 1)" font-size="15.4" fill="#111" stroke="#111" stroke-width="0.3" style="font-family:'Liberation Sans',sans-serif">1</text>
<text transform="translate(234.60000000000002 259.4) scale(1 1)" font-size="15.4" fill="#111" stroke="#111" stroke-width="0.3" style="font-family:'Liberation Sans',sans-serif">0.3</text>
<text transform="translate(14.6 290.2) scale(0.92 1)" font-size="12" fill="#111" stroke="#111" stroke-width="0.35" style="font-family:'Liberation Sans',sans-serif">CZ</text>
<text transform="translate(15.6 313.4) scale(0.92 1)" font-size="12" fill="#111" stroke="#111" stroke-width="0.35" style="font-family:'Liberation Sans',sans-serif">TZ</text>
<line x1="11.5" y1="294.7" x2="36" y2="294.7" stroke="#111" stroke-width="1.7"/>
<path d="M29.5 290.9 L44.2 294.7 L29.5 298.5 L33.5 294.7 Z" fill="#111"/>
<line x1="11.5" y1="318.9" x2="36" y2="318.9" stroke="#111" stroke-width="1.7"/>
<path d="M29.5 315.09999999999997 L44.2 318.9 L29.5 322.7 L33.5 318.9 Z" fill="#111"/>
<defs><linearGradient id="gr" x1="0" x2="1"><stop offset="0" stop-color="#a8a6b2"/><stop offset="0.1" stop-color="#b6b2bc"/><stop offset="0.18" stop-color="#ece6e9"/><stop offset="0.6" stop-color="#f4eff0"/><stop offset="0.9" stop-color="#ede6e9"/><stop offset="1" stop-color="#dfd8dd"/></linearGradient><linearGradient id="gd" x1="0" x2="1"><stop offset="0" stop-color="#a09cac"/><stop offset="0.1" stop-color="#aea8b8"/><stop offset="0.18" stop-color="#dcd6e2"/><stop offset="0.6" stop-color="#e2dce6"/><stop offset="0.9" stop-color="#d8d0dc"/><stop offset="1" stop-color="#ccc4d2"/></linearGradient><linearGradient id="pr" x1="0" x2="0" y1="0" y2="1"><stop offset="0" stop-color="#c8a4b0" stop-opacity="0"/><stop offset="0.3" stop-color="#c8a4b0" stop-opacity="0.8"/><stop offset="0.55" stop-color="#c8a8b8" stop-opacity="0.6"/><stop offset="1" stop-color="#c0b0c0" stop-opacity="0.5"/></linearGradient><linearGradient id="pd" x1="0" x2="0" y1="0" y2="1"><stop offset="0" stop-color="#b4a8c4" stop-opacity="0"/><stop offset="0.3" stop-color="#b0a0c0" stop-opacity="0.8"/><stop offset="0.55" stop-color="#b4a8c8" stop-opacity="0.6"/><stop offset="1" stop-color="#b0a8c4" stop-opacity="0.5"/></linearGradient><linearGradient id="gb" x1="0" x2="0" y1="0" y2="1"><stop offset="0" stop-color="#c8a8b4" stop-opacity="0"/><stop offset="0.25" stop-color="#c8a8b4" stop-opacity="0.45"/><stop offset="0.7" stop-color="#c0a8b4" stop-opacity="0.3"/><stop offset="1" stop-color="#b8a8b4" stop-opacity="0"/></linearGradient></defs>
<rect x="50.2" y="262" width="9.2" height="100.4" fill="url(#gr)"/>
<rect x="51.7" y="339" width="7.7" height="23.4" fill="url(#pr)" opacity="0.61"/>
<rect x="51.7" y="342.2" width="7.7" height="1.6" fill="#b898a4" opacity="0.28" filter="url(#bl3)"/>
<rect x="51.800000000000004" y="292.1" width="7.6" height="3.2" fill="#cc1e42" filter="url(#bl3)"/>
<rect x="68" y="262" width="9.4" height="100.4" fill="url(#gd)"/>
<rect x="69.5" y="339" width="7.9" height="23.4" fill="url(#pd)" opacity="0.50"/>
<rect x="69.5" y="342.2" width="7.9" height="1.6" fill="#9c90a8" opacity="0.23" filter="url(#bl3)"/>
<rect x="69.6" y="292.9" width="7.8" height="3.2" fill="#3a0e2c" filter="url(#bl3)"/>
<rect x="98.5" y="262" width="9.5" height="100.4" fill="url(#gr)"/>
<rect x="100.0" y="339" width="8.0" height="23.4" fill="url(#pr)" opacity="0.66"/>
<rect x="100.0" y="342.2" width="8.0" height="1.6" fill="#b898a4" opacity="0.30" filter="url(#bl3)"/>
<rect x="100.1" y="292.1" width="7.9" height="3.2" fill="#cc1e42" filter="url(#bl3)"/>
<rect x="100.1" y="313.9" width="7.9" height="2.6" fill="#ea8ea4" filter="url(#bl3)"/>
<rect x="112.5" y="262" width="9.8" height="100.4" fill="url(#gd)"/>
<rect x="114.0" y="339" width="8.3" height="23.4" fill="url(#pd)" opacity="0.83"/>
<rect x="114.0" y="342.2" width="8.3" height="1.6" fill="#9c90a8" opacity="0.38" filter="url(#bl3)"/>
<rect x="114.1" y="293.5" width="8.2" height="3.2" fill="#3a0e2c" filter="url(#bl3)"/>
<rect x="114.1" y="316.3" width="8.2" height="2.4" fill="#7a6478" filter="url(#bl3)"/>
<rect x="135.3" y="262" width="9.3" height="100.4" fill="url(#gr)"/>
<rect x="136.8" y="339" width="7.8" height="23.4" fill="url(#pr)" opacity="0.88"/>
<rect x="136.8" y="342.2" width="7.8" height="1.6" fill="#b898a4" opacity="0.40" filter="url(#bl3)"/>
<rect x="136.9" y="293.5" width="7.7" height="3.2" fill="#cc1e42" filter="url(#bl3)"/>
<rect x="136.9" y="315.25" width="7.7" height="1.5" fill="#e8c8d0" filter="url(#bl3)"/>
<rect x="150.3" y="262" width="9.3" height="100.4" fill="url(#gd)"/>
<rect x="151.8" y="339" width="7.8" height="23.4" fill="url(#pd)" opacity="0.88"/>
<rect x="151.8" y="342.2" width="7.8" height="1.6" fill="#9c90a8" opacity="0.40" filter="url(#bl3)"/>
<rect x="151.9" y="294.1" width="7.7" height="3.2" fill="#3a0e2c" filter="url(#bl3)"/>
<rect x="151.9" y="316.1" width="7.7" height="1.8" fill="#a898a8" filter="url(#bl3)"/>
<rect x="171.1" y="262" width="8.9" height="100.4" fill="url(#gr)"/>
<rect x="172.6" y="339" width="7.4" height="23.4" fill="url(#pr)" opacity="0.83"/>
<rect x="172.6" y="342.2" width="7.4" height="1.6" fill="#b898a4" opacity="0.38" filter="url(#bl3)"/>
<rect x="172.7" y="292.5" width="7.3" height="3.2" fill="#cc1e42" filter="url(#bl3)"/>
<rect x="172.7" y="315.75" width="7.3" height="1.5" fill="#ecd4da" filter="url(#bl3)"/>
<rect x="185.4" y="262" width="8.9" height="100.4" fill="url(#gd)"/>
<rect x="186.9" y="339" width="7.4" height="23.4" fill="url(#pd)" opacity="0.88"/>
<rect x="186.9" y="342.2" width="7.4" height="1.6" fill="#9c90a8" opacity="0.40" filter="url(#bl3)"/>
<rect x="187.0" y="293.5" width="7.3" height="3.2" fill="#3a0e2c" filter="url(#bl3)"/>
<rect x="187.0" y="316.75" width="7.3" height="1.5" fill="#b8a8b8" filter="url(#bl3)"/>
<rect x="202.5" y="262" width="8.8" height="100.4" fill="url(#gr)"/>
<rect x="204.0" y="339" width="7.3" height="23.4" fill="url(#pr)" opacity="1.00"/>
<rect x="204.0" y="342.2" width="7.3" height="1.6" fill="#b898a4" opacity="0.47" filter="url(#bl3)"/>
<rect x="204.1" y="294.5" width="7.2" height="3.2" fill="#cc1e42" filter="url(#bl3)"/>
<rect x="204.1" y="315.9" width="7.2" height="1.2" fill="#eedcdf" filter="url(#bl3)"/>
<rect x="217" y="262" width="9.3" height="100.4" fill="url(#gd)"/>
<rect x="218.5" y="339" width="7.8" height="23.4" fill="url(#pd)" opacity="0.88"/>
<rect x="218.5" y="342.2" width="7.8" height="1.6" fill="#9c90a8" opacity="0.40" filter="url(#bl3)"/>
<rect x="218.6" y="294.1" width="7.7" height="3.2" fill="#3a0e2c" filter="url(#bl3)"/>
<rect x="218.6" y="316.9" width="7.7" height="1.2" fill="#c8bcc8" filter="url(#bl3)"/>
<rect x="233.6" y="262" width="9.3" height="100.4" fill="url(#gr)"/>
<rect x="235.1" y="339" width="7.8" height="23.4" fill="url(#pr)" opacity="0.77"/>
<rect x="235.1" y="342.2" width="7.8" height="1.6" fill="#b898a4" opacity="0.35" filter="url(#bl3)"/>
<rect x="235.2" y="295.5" width="7.7" height="3.2" fill="#cc1e42" filter="url(#bl3)"/>
<rect x="248.6" y="262" width="8.8" height="100.4" fill="url(#gd)"/>
<rect x="250.1" y="339" width="7.3" height="23.4" fill="url(#pd)" opacity="0.94"/>
<rect x="250.1" y="342.2" width="7.3" height="1.6" fill="#9c90a8" opacity="0.42" filter="url(#bl3)"/>
<rect x="250.2" y="294.9" width="7.2" height="3.2" fill="#3a0e2c" filter="url(#bl3)"/>
<text transform="translate(275.9 244) scale(1.06 1)" font-size="35" fill="#000" style="font-family:'Liberation Sans',sans-serif">d</text>
<path d="M347 215.6 V343.1 H520.5" fill="none" stroke="#222" stroke-width="1.4"/>
<line x1="344" y1="342.90" x2="347" y2="342.90" stroke="#222" stroke-width="1.2"/>
<line x1="345.5" y1="328.73" x2="347" y2="328.73" stroke="#222" stroke-width="1"/>
<text x="342" y="345.90" font-size="9" font-weight="bold" text-anchor="end" fill="#222" style="font-family:'Liberation Serif',serif">0</text>
<line x1="344" y1="314.57" x2="347" y2="314.57" stroke="#222" stroke-width="1.2"/>
<line x1="345.5" y1="300.40" x2="347" y2="300.40" stroke="#222" stroke-width="1"/>
<text x="342" y="317.57" font-size="9" font-weight="bold" text-anchor="end" fill="#222" style="font-family:'Liberation Serif',serif">10</text>
<line x1="344" y1="286.24" x2="347" y2="286.24" stroke="#222" stroke-width="1.2"/>
<line x1="345.5" y1="272.07" x2="347" y2="272.07" stroke="#222" stroke-width="1"/>
<text x="342" y="289.24" font-size="9" font-weight="bold" text-anchor="end" fill="#222" style="font-family:'Liberation Serif',serif">20</text>
<line x1="344" y1="257.91" x2="347" y2="257.91" stroke="#222" stroke-width="1.2"/>
<line x1="345.5" y1="243.74" x2="347" y2="243.74" stroke="#222" stroke-width="1"/>
<text x="342" y="260.91" font-size="9" font-weight="bold" text-anchor="end" fill="#222" style="font-family:'Liberation Serif',serif">30</text>
<line x1="344" y1="229.58" x2="347" y2="229.58" stroke="#222" stroke-width="1.2"/>
<text x="342" y="232.58" font-size="9" font-weight="bold" text-anchor="end" fill="#222" style="font-family:'Liberation Serif',serif">40</text>
<line x1="384.0" y1="343.1" x2="384.0" y2="346.1" stroke="#222" stroke-width="1.2"/>
<text x="384.0" y="354" font-size="9" font-weight="bold" text-anchor="middle" fill="#222" style="font-family:'Liberation Serif',serif">1</text>
<line x1="437.0" y1="343.1" x2="437.0" y2="346.1" stroke="#222" stroke-width="1.2"/>
<text x="437.0" y="354" font-size="9" font-weight="bold" text-anchor="middle" fill="#222" style="font-family:'Liberation Serif',serif">10</text>
<line x1="490.0" y1="343.1" x2="490.0" y2="346.1" stroke="#222" stroke-width="1.2"/>
<text x="490.0" y="354" font-size="9" font-weight="bold" text-anchor="middle" fill="#222" style="font-family:'Liberation Serif',serif">100</text>
<line x1="356.29" y1="343.1" x2="356.29" y2="344.90000000000003" stroke="#222" stroke-width="1"/>
<line x1="362.91" y1="343.1" x2="362.91" y2="344.90000000000003" stroke="#222" stroke-width="1"/>
<line x1="368.05" y1="343.1" x2="368.05" y2="344.90000000000003" stroke="#222" stroke-width="1"/>
<line x1="372.24" y1="343.1" x2="372.24" y2="344.90000000000003" stroke="#222" stroke-width="1"/>
<line x1="375.79" y1="343.1" x2="375.79" y2="344.90000000000003" stroke="#222" stroke-width="1"/>
<line x1="378.86" y1="343.1" x2="378.86" y2="344.90000000000003" stroke="#222" stroke-width="1"/>
<line x1="381.57" y1="343.1" x2="381.57" y2="344.90000000000003" stroke="#222" stroke-width="1"/>
<line x1="399.95" y1="343.1" x2="399.95" y2="344.90000000000003" stroke="#222" stroke-width="1"/>
<line x1="409.29" y1="343.1" x2="409.29" y2="344.90000000000003" stroke="#222" stroke-width="1"/>
<line x1="415.91" y1="343.1" x2="415.91" y2="344.90000000000003" stroke="#222" stroke-width="1"/>
<line x1="421.05" y1="343.1" x2="421.05" y2="344.90000000000003" stroke="#222" stroke-width="1"/>
<line x1="425.24" y1="343.1" x2="425.24" y2="344.90000000000003" stroke="#222" stroke-width="1"/>
<line x1="428.79" y1="343.1" x2="428.79" y2="344.90000000000003" stroke="#222" stroke-width="1"/>
<line x1="431.86" y1="343.1" x2="431.86" y2="344.90000000000003" stroke="#222" stroke-width="1"/>
<line x1="434.57" y1="343.1" x2="434.57" y2="344.90000000000003" stroke="#222" stroke-width="1"/>
<line x1="452.95" y1="343.1" x2="452.95" y2="344.90000000000003" stroke="#222" stroke-width="1"/>
<line x1="462.29" y1="343.1" x2="462.29" y2="344.90000000000003" stroke="#222" stroke-width="1"/>
<line x1="468.91" y1="343.1" x2="468.91" y2="344.90000000000003" stroke="#222" stroke-width="1"/>
<line x1="474.05" y1="343.1" x2="474.05" y2="344.90000000000003" stroke="#222" stroke-width="1"/>
<line x1="478.24" y1="343.1" x2="478.24" y2="344.90000000000003" stroke="#222" stroke-width="1"/>
<line x1="481.79" y1="343.1" x2="481.79" y2="344.90000000000003" stroke="#222" stroke-width="1"/>
<line x1="484.86" y1="343.1" x2="484.86" y2="344.90000000000003" stroke="#222" stroke-width="1"/>
<line x1="487.57" y1="343.1" x2="487.57" y2="344.90000000000003" stroke="#222" stroke-width="1"/>
<line x1="505.95" y1="343.1" x2="505.95" y2="344.90000000000003" stroke="#222" stroke-width="1"/>
<line x1="515.29" y1="343.1" x2="515.29" y2="344.90000000000003" stroke="#222" stroke-width="1"/>
<text x="402.6" y="369.7" font-size="11" fill="#111" stroke="#111" stroke-width="0.25" style="font-family:'Liberation Serif',serif">PVX, ng mL<tspan dy="-6" font-size="6.5">-1</tspan></text>
<text transform="translate(322.8 322) rotate(-90)" font-size="10.3" font-weight="bold" fill="#222" style="font-family:'Liberation Serif',serif">Color intensity, RU</text>
<text x="527.5" y="245" font-size="12" fill="#222" style="font-family:'Liberation Serif',serif">1</text>
<text x="528.8" y="281.3" font-size="12" fill="#222" style="font-family:'Liberation Serif',serif">2</text>
<path d="M421.05 338.60 C423.70 338.32 431.68 337.77 437.00 336.90 C442.32 336.03 447.64 334.95 452.95 333.40 C458.27 331.85 463.59 329.83 468.91 327.60 C474.23 325.37 479.55 324.53 484.86 320.00 C490.18 315.47 495.50 306.27 500.82 300.40 C506.14 294.53 514.11 287.40 516.77 284.80" fill="none" stroke="#111" stroke-width="1.5"/>
<path d="M356.29 341.00 C358.95 340.73 366.77 340.07 372.24 339.40 C377.72 338.73 383.66 337.67 389.14 337.00 C394.61 336.33 399.77 336.35 405.09 335.40 C410.41 334.45 415.73 332.65 421.05 331.30 C426.36 329.95 431.68 328.52 437.00 327.30 C442.32 326.08 447.64 326.28 452.95 324.00 C458.27 321.72 463.59 317.67 468.91 313.60 C474.23 309.53 479.55 307.35 484.86 299.60 C490.18 291.85 495.50 276.23 500.82 267.10 C506.14 257.97 514.11 248.52 516.77 244.80" fill="none" stroke="#f4301e" stroke-width="1.5"/>
<rect x="419.05" y="336.6" width="4" height="4" fill="#111"/>
<rect x="435.00" y="334.9" width="4" height="4" fill="#111"/>
<path d="M452.95 331.9 V334.9 M450.65 331.9 H455.25 M450.65 334.9 H455.25" stroke="#111" stroke-width="1.1" fill="none"/>
<rect x="450.95" y="331.4" width="4" height="4" fill="#111"/>
<path d="M468.91 324.6 V330.6 M466.61 324.6 H471.21 M466.61 330.6 H471.21" stroke="#111" stroke-width="1.1" fill="none"/>
<rect x="466.91" y="325.6" width="4" height="4" fill="#111"/>
<path d="M484.86 317.5 V322.5 M482.56 317.5 H487.16 M482.56 322.5 H487.16" stroke="#111" stroke-width="1.1" fill="none"/>
<rect x="482.86" y="318" width="4" height="4" fill="#111"/>
<path d="M500.82 296.59999999999997 V304.2 M498.52 296.59999999999997 H503.12 M498.52 304.2 H503.12" stroke="#111" stroke-width="1.1" fill="none"/>
<rect x="498.82" y="298.4" width="4" height="4" fill="#111"/>
<path d="M516.77 280.8 V288.8 M514.47 280.8 H519.07 M514.47 288.8 H519.07" stroke="#111" stroke-width="1.1" fill="none"/>
<rect x="514.77" y="282.8" width="4" height="4" fill="#111"/>
<circle cx="356.29" cy="341.0" r="2.2" fill="#f4301e"/>
<circle cx="372.24" cy="339.4" r="2.2" fill="#f4301e"/>
<circle cx="389.14" cy="337" r="2.2" fill="#f4301e"/>
<circle cx="405.09" cy="335.4" r="2.2" fill="#f4301e"/>
<path d="M421.05 326.8 V335.8 M418.55 326.8 H423.55 M418.55 335.8 H423.55" stroke="#f4301e" stroke-width="1.1" fill="none"/>
<path d="M418.55 329.3 H423.55 L421.05 333.6 Z" fill="#f4301e"/>
<path d="M437.00 324.7 V329.90000000000003 M434.50 324.7 H439.50 M434.50 329.90000000000003 H439.50" stroke="#f4301e" stroke-width="1.1" fill="none"/>
<path d="M434.50 325.3 H439.50 L437.00 329.6 Z" fill="#f4301e"/>
<path d="M452.95 320.4 V327.6 M450.45 320.4 H455.45 M450.45 327.6 H455.45" stroke="#f4301e" stroke-width="1.1" fill="none"/>
<path d="M450.45 322 H455.45 L452.95 326.3 Z" fill="#f4301e"/>
<path d="M468.91 309.3 V317.90000000000003 M466.41 309.3 H471.41 M466.41 317.90000000000003 H471.41" stroke="#f4301e" stroke-width="1.1" fill="none"/>
<path d="M466.41 311.6 H471.41 L468.91 315.90000000000003 Z" fill="#f4301e"/>
<path d="M484.86 289.40000000000003 V309.8 M482.36 289.40000000000003 H487.36 M482.36 309.8 H487.36" stroke="#f4301e" stroke-width="1.1" fill="none"/>
<path d="M482.36 297.6 H487.36 L484.86 301.90000000000003 Z" fill="#f4301e"/>
<path d="M500.82 256.90000000000003 V277.3 M498.32 256.90000000000003 H503.32 M498.32 277.3 H503.32" stroke="#f4301e" stroke-width="1.1" fill="none"/>
<path d="M498.32 265.1 H503.32 L500.82 269.40000000000003 Z" fill="#f4301e"/>
<path d="M516.77 232.0 V257.6 M514.27 232.0 H519.27 M514.27 257.6 H519.27" stroke="#f4301e" stroke-width="1.1" fill="none"/>
<path d="M514.27 242.8 H519.27 L516.77 247.10000000000002 Z" fill="#f4301e"/>
</svg></body></html>
